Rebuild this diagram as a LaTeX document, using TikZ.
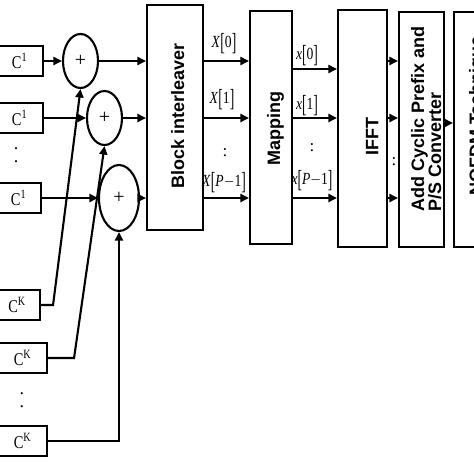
\documentclass[tikz,border=0pt]{standalone}
\usepackage{fontspec}
\setmainfont{Liberation Serif}
\setsansfont{Liberation Sans}
\usetikzlibrary{arrows.meta,shapes.geometric}
\newcommand\lbrk{\raisebox{-0.2em}{\scalebox{1}[1.45]{[}}}
\newcommand\rbrk{\raisebox{-0.2em}{\scalebox{1}[1.45]{]}}}
\newcommand\narrow[1]{\scalebox{0.8}[1]{#1}}
\begin{document}
\begin{tikzpicture}[x=1pt,y=-1pt,
  line width=2.1pt,
  arr/.style={-{Triangle[length=8.5pt,width=8pt]}},
  blk/.style={draw,rectangle,inner sep=0pt},
  src/.style={draw,rectangle,inner sep=0pt,minimum height=30pt,font=\fontsize{18}{18}\selectfont},
  sumnode/.style={draw,ellipse,inner sep=0pt,font=\fontsize{20}{20}\selectfont},
  btxt/.style={rotate=90,anchor=north west,inner sep=0pt,font=\sffamily\bfseries\fontsize{18}{17}\selectfont},
  lbl/.style={inner sep=0pt,font=\fontsize{17}{17}\selectfont},
  dotsnode/.style={inner sep=0pt,align=center,font=\fontsize{18}{13}\selectfont}]
\useasboundingbox (0,0) rectangle (474,474);
\clip (0,0) rectangle (474,474);
% row coordinates
\coordinate (m1) at (0,69);
\coordinate (m4) at (0,123);
% sources
\node[src,minimum width=47pt] (c1) at (19.5,61) {\narrow{C\textsuperscript{1}}};
\node[src,minimum width=47pt] (c2) at (19.5,118) {\narrow{C\textsuperscript{1}}};
\node[src,minimum width=45pt] (c3) at (18.5,198) {\narrow{C\textsuperscript{1}}};
\node[src,minimum width=46pt] (ck1) at (17,305) {\narrow{C\textsuperscript{K}}};
\node[src,minimum width=49pt] (ck2) at (22.5,358) {\narrow{C\textsuperscript{K}}};
\node[src,minimum width=49pt] (ck3) at (22.5,441) {\narrow{C\textsuperscript{K}}};
\node[dotsnode] (d1) at (16,155) {.\\.};
\node[dotsnode] (d2) at (22,400) {.\\.};
% adders
\node[sumnode,minimum width=35pt,minimum height=54pt] (s1) at (80.5,61) {+};
\node[sumnode,minimum width=35pt,minimum height=54pt] (s2) at (104.5,118) {+};
\node[sumnode,minimum width=40pt,minimum height=66pt] (s3) at (119,198) {+};
% blocks
\node[blk,minimum width=56pt,minimum height=225pt] (bi) at (175,117.5) {};
\node[blk,minimum width=42pt,minimum height=233pt] (map) at (271,127.5) {};
\node[blk,minimum width=49pt,minimum height=237pt] (ifft) at (362.5,128.5) {};
\node[blk,minimum width=45pt,minimum height=235pt] (cp) at (421.5,129.5) {};
\node[blk,minimum width=46pt,minimum height=235pt] (nofdm) at (477,129.5) {};
\node[btxt] (tbi) at (170,190) {Block interleaver};
\node[btxt] (tmap) at (266,167) {Mapping};
\node[btxt] (tifft) at (365,157) {IFFT};
\node[btxt,align=left] (tcp) at (410,213) {Add Cyclic Prefix and\\P/S Converter};
\node[btxt] (tno) at (468,197) {NOFDM Technique};
% labels
\node[lbl] (X0) at (224,44) {\narrow{\textit{X}\lbrk0\rbrk}};
\node[lbl] (X1) at (222,100) {\narrow{\textit{X}\lbrk1\rbrk}};
\node[lbl] (Xd) at (225,153) {:};
\node[lbl] (XP) at (224,183) {\narrow{\textit{X}\lbrk\textit{P}$-$1\rbrk}};
\node[lbl] (x0) at (307,56) {\narrow{\textit{x}\lbrk0\rbrk}};
\node[lbl] (x1) at (307,106) {\narrow{\textit{x}\lbrk1\rbrk}};
\node[lbl] (xd) at (312,148) {:};
\node[lbl] (xP) at (312,181) {\narrow{\textit{x}\lbrk\textit{P}$-$1\rbrk}};
\node[lbl] (dd) at (394,162) {:};
% connectors
\draw[arr] (c1.east) -- (s1.west);
\draw[arr] (c2.east) -- (s2.west);
\draw[arr] (c3.east) -- (s3.west);
\draw[arr] (ck1.east) -- ++(12,0) -- (s1.south);
\draw[arr] (ck2.east) -- ++(26,0) -- (s2.south);
\draw[arr] (ck3.east) -| (s3.south);
\draw[arr] (s1.east) -- (bi.west |- s1.east);
\draw[arr] (s2.east) -- (bi.west |- s2.east);
\draw[arr] (s3.east) -- (bi.west |- s3.east);
\draw[arr] (bi.east |- s1) -- (map.west |- s1);
\draw[arr] (bi.east |- s2) -- (map.west |- s2);
\draw[arr] (bi.east |- s3) -- (map.west |- s3);
\draw[arr] (map.east |- m1) -- (ifft.west |- m1);
\draw[arr] (map.east |- s2) -- (ifft.west |- s2);
\draw[arr] (map.east |- s3) -- (ifft.west |- s3);
\draw[arr] (ifft.east |- s1) -- (cp.west |- s1);
\draw[arr] (ifft.east |- s2) -- (cp.west |- s2);
\draw[arr] (ifft.east |- s3) -- (cp.west |- s3);
\draw[arr] (cp.east |- m4) -- (nofdm.west |- m4);
\end{tikzpicture}
\end{document}
